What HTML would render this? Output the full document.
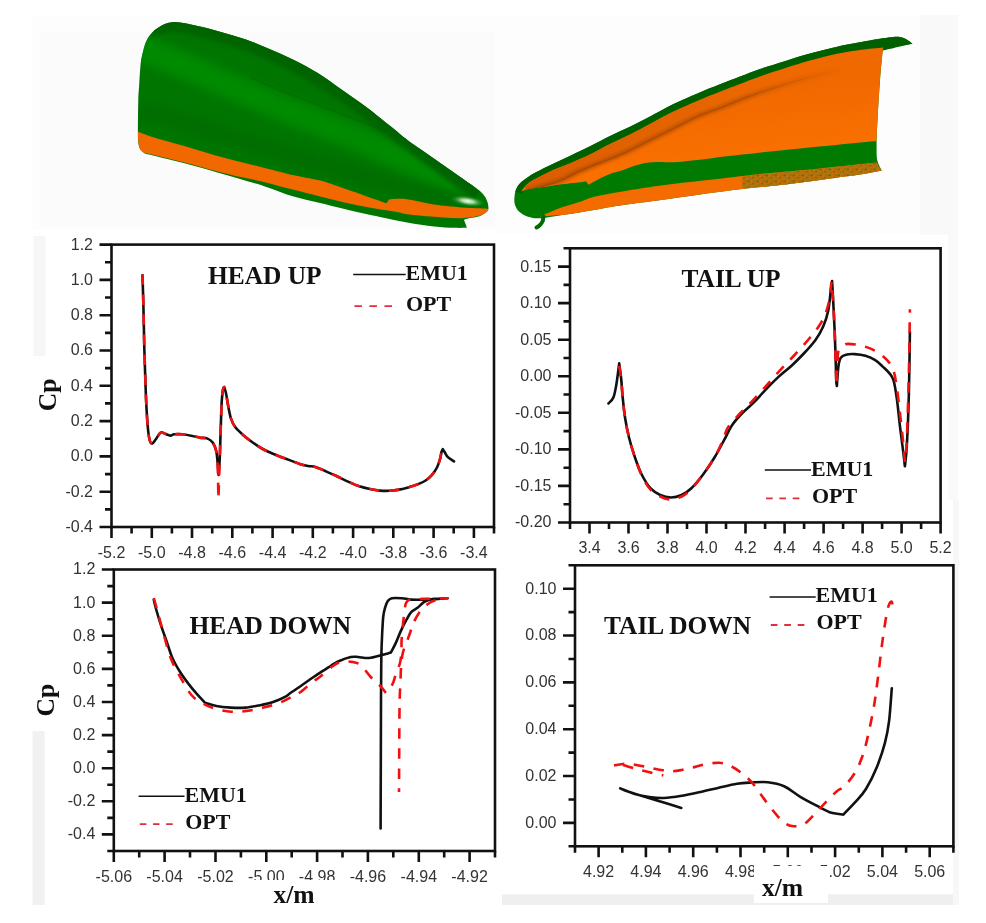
<!DOCTYPE html>
<html><head><meta charset="utf-8"><title>Cp distribution</title>
<style>
html,body{margin:0;padding:0;background:#fff;}
body{width:986px;height:923px;overflow:hidden;position:relative;}
svg{position:absolute;left:0;top:0;display:block;}
.ax{fill:none;stroke:#111;stroke-width:2.6;}
.tk{fill:none;stroke:#111;stroke-width:2.6;}
.tl{font-family:"Liberation Sans",Arial,sans-serif;font-size:16px;fill:#333;}
.ti{font-family:"Liberation Serif","Times New Roman",serif;font-weight:bold;font-size:25.4px;fill:#111;}
.lg{font-family:"Liberation Serif","Times New Roman",serif;font-weight:bold;font-size:22px;fill:#111;}
.al{font-family:"Liberation Serif","Times New Roman",serif;font-weight:bold;font-size:25.6px;fill:#111;}
.bk{fill:none;stroke:#111;stroke-width:2.6;stroke-linejoin:round;stroke-linecap:round;}
.rd{fill:none;stroke:#f01010;stroke-width:2.6;stroke-dasharray:10.5 9.5;stroke-linejoin:round;}
</style></head><body>
<svg width="986" height="923" viewBox="0 0 986 923">

<defs>
<linearGradient id="hg" gradientUnits="userSpaceOnUse" x1="300" y1="55" x2="262" y2="180">
<stop offset="0" stop-color="#0c6a0c"/><stop offset="0.12" stop-color="#0d700d"/><stop offset="0.3" stop-color="#138413"/>
<stop offset="0.5" stop-color="#118011"/><stop offset="0.75" stop-color="#0f7c0f"/><stop offset="1" stop-color="#0c740c"/>
</linearGradient>
<linearGradient id="tg" gradientUnits="userSpaceOnUse" x1="700" y1="95" x2="708" y2="165">
<stop offset="0" stop-color="#f06800"/><stop offset="0.4" stop-color="#f46c00"/><stop offset="1" stop-color="#fa7000"/>
</linearGradient>
<linearGradient id="ba" gradientUnits="userSpaceOnUse" x1="520" y1="0" x2="880" y2="0">
<stop offset="0" stop-color="#d85c00"/><stop offset="0.45" stop-color="#e06200" stop-opacity="0.8"/><stop offset="0.8" stop-color="#e86600" stop-opacity="0"/>
</linearGradient>
<linearGradient id="cg" gradientUnits="userSpaceOnUse" x1="520" y1="0" x2="840" y2="0">
<stop offset="0" stop-color="#a84800"/><stop offset="0.7" stop-color="#b85000"/><stop offset="1" stop-color="#d86000" stop-opacity="0.2"/>
</linearGradient>
<filter id="bl4" x="-10%" y="-50%" width="120%" height="200%"><feGaussianBlur stdDeviation="5"/></filter>
<filter id="bl05" x="-10%" y="-50%" width="120%" height="200%"><feGaussianBlur stdDeviation="0.6"/></filter>
<radialGradient id="hl" cx="0.55" cy="0.55" r="0.5">
<stop offset="0" stop-color="#f4fff0"/><stop offset="0.35" stop-color="#b8e0b0" stop-opacity="0.9"/><stop offset="0.7" stop-color="#40a040" stop-opacity="0.5"/><stop offset="1" stop-color="#108a10" stop-opacity="0"/>
</radialGradient>
<filter id="bl" x="-10%" y="-50%" width="120%" height="200%"><feGaussianBlur stdDeviation="2.5"/></filter>
<filter id="bl1" x="-10%" y="-50%" width="120%" height="200%"><feGaussianBlur stdDeviation="1.2"/></filter>
<clipPath id="hc"><path d="M144.7 153.4 C144 152.7 141.4 151 140.3 149.3 C139.2 147.6 138.8 145.9 138.4 143 C138 140.1 137.9 139.2 137.9 132 C137.9 124.8 138.1 107.7 138.3 100 C138.5 92.3 138.8 91.3 139.1 86 C139.4 80.7 139.8 73.1 140.3 68 C140.8 62.9 140.9 60.4 142.1 55.6 C143.2 50.8 144.7 43.9 147.2 39.3 C149.7 34.7 152.9 31.1 157.3 28.2 C161.7 25.3 167 22.5 173.5 22.1 C180 21.7 188.6 24.2 196.5 25.8 C204.4 27.4 212.8 29.7 220.9 31.9 C229 34.1 237.1 36.4 245.2 39.2 C253.3 42.1 261.4 45.5 269.5 49 C277.6 52.5 285.8 55.9 293.9 59.9 C302 63.9 310.1 68.2 318.2 73.3 C326.3 78.4 334.5 84.6 342.6 90.3 C350.7 96 358.8 101.3 366.9 107.4 C375 113.5 384.6 121.4 391.3 126.8 C398 132.2 402.2 136.1 407.1 139.8 C412 143.6 416.1 146.1 420.6 149.3 C425.1 152.5 429.7 155.7 434.2 158.8 C438.7 162 443.2 165 447.7 168.2 C452.2 171.3 456.8 174.5 461.3 177.7 C465.8 180.9 471.2 184.5 474.8 187.2 C478.4 189.9 480.9 191.8 482.9 194 C484.9 196.2 486.1 198.4 487 200.7 C487.9 202.9 488.4 205.7 488.4 207.5 C488.4 209.3 488.4 210.2 487 211.6 C485.6 213 483.2 214.8 480 216 C476.8 217.2 470.7 217.9 468 218.5 C465.3 219.1 464.7 219.5 464 219.7 C464.5 221 466.5 226.5 467 227.8 C464.9 227.8 460 228 454.5 227.8 C449 227.6 442.1 227.4 434.2 226.5 C426.3 225.6 416.1 224 407.1 222.4 C398.1 220.8 390.3 219.2 380 217 C369.7 214.8 355.6 211.7 345.5 209.3 C335.4 206.9 327.9 204.9 319.1 202.7 C310.3 200.5 301.5 198.8 292.7 196.2 C283.9 193.6 275.2 189.8 266.4 186.9 C257.6 184 249.6 181.8 240 179 C230.4 176.2 218.6 172.7 209 170 C199.4 167.3 191.5 165.1 182.7 162.8 C173.9 160.5 162.7 157.8 156.4 156.2 C150.1 154.6 146.6 153.9 144.7 153.4Z"/></clipPath>
<clipPath id="tc"><path d="M521.2 191.6 C521.8 190.8 523.5 188.1 525 186.5 C526.5 184.9 527.7 183.5 530.3 181.8 C532.9 180.1 537 178 540.4 176.2 C543.8 174.4 547.3 172.7 550.6 171.2 C553.9 169.7 556.5 168.8 560 167.3 C563.5 165.9 566.9 164.6 571.9 162.5 C576.9 160.4 583.6 157.6 590 154.5 C596.4 151.4 603.3 147.3 610 144 C616.7 140.7 623.3 137.8 630 134.5 C636.7 131.2 642.8 127.8 650 124 C657.2 120.2 665.1 115.6 673 111.8 C680.9 108 689.6 104.2 697.4 100.9 C705.2 97.6 712.9 94.6 720 91.8 C727.1 89 733.3 86.5 740 84 C746.7 81.5 752.4 79.2 760 76.5 C767.6 73.8 777.2 70.7 785.5 68 C793.8 65.3 801.2 62.9 810 60.5 C818.8 58.1 829.9 55.2 838.2 53.5 C846.5 51.8 852.5 51 860 50 C867.5 49 879.2 47.9 883 47.5 C882.5 52.9 880.9 67.9 880 80 C879.1 92.1 878.1 109.8 877.5 120 C876.9 130.2 876.7 137.5 876.5 141 C863.8 142.2 822.4 146.2 800 148.5 C777.6 150.8 761.8 152.3 742 154.5 C722.2 156.7 697 160.3 681.1 161.7 C665.2 163.1 656.9 161.1 646.7 162.7 C636.5 164.2 625.9 169.2 620 171 C614.1 172.8 614.6 172.2 611.3 173.5 C608 174.8 603.8 176.6 600 178.5 C596.2 180.4 590.4 183.8 588.5 184.8 C588.1 184.2 586.4 181.8 586 181.2 C585 181.4 584.3 181.8 580 182.3 C575.7 182.9 564.9 183.9 560 184.5 C555.1 185.1 553.9 185.5 550.6 186 C547.3 186.5 543.8 187 540.4 187.4 C537 187.8 533.5 187.9 530.3 188.6 C527.1 189.3 522.7 191.1 521.2 191.6Z"/></clipPath>
<pattern id="spk" width="9" height="6" patternUnits="userSpaceOnUse">
<rect width="9" height="6" fill="#c06e08"/><rect x="0.5" y="0.5" width="2.5" height="1.8" fill="#5a7410"/><rect x="5" y="2.8" width="2.2" height="1.6" fill="#627810"/>
<rect x="2.5" y="3.8" width="1.6" height="1.5" fill="#8a7410"/><rect x="6.8" y="0.3" width="1.6" height="1.4" fill="#7a7610"/><rect x="3.6" y="1.6" width="1.2" height="1.2" fill="#e07000"/>
</pattern>
</defs>
<rect x="32" y="16" width="470" height="214" fill="#fdfdfd"/>
<rect x="40" y="32" width="455" height="195" fill="#fbfbfb"/>
<rect x="496" y="16" width="424" height="218" fill="#fdfdfd"/>
<rect x="920" y="15" width="38" height="220" fill="#f9f9f9"/>
<rect x="948" y="235" width="10" height="265" fill="#f9f9f9"/>
<path d="M144.7 153.4 C144 152.7 141.4 151 140.3 149.3 C139.2 147.6 138.8 145.9 138.4 143 C138 140.1 137.9 139.2 137.9 132 C137.9 124.8 138.1 107.7 138.3 100 C138.5 92.3 138.8 91.3 139.1 86 C139.4 80.7 139.8 73.1 140.3 68 C140.8 62.9 140.9 60.4 142.1 55.6 C143.2 50.8 144.7 43.9 147.2 39.3 C149.7 34.7 152.9 31.1 157.3 28.2 C161.7 25.3 167 22.5 173.5 22.1 C180 21.7 188.6 24.2 196.5 25.8 C204.4 27.4 212.8 29.7 220.9 31.9 C229 34.1 237.1 36.4 245.2 39.2 C253.3 42.1 261.4 45.5 269.5 49 C277.6 52.5 285.8 55.9 293.9 59.9 C302 63.9 310.1 68.2 318.2 73.3 C326.3 78.4 334.5 84.6 342.6 90.3 C350.7 96 358.8 101.3 366.9 107.4 C375 113.5 384.6 121.4 391.3 126.8 C398 132.2 402.2 136.1 407.1 139.8 C412 143.6 416.1 146.1 420.6 149.3 C425.1 152.5 429.7 155.7 434.2 158.8 C438.7 162 443.2 165 447.7 168.2 C452.2 171.3 456.8 174.5 461.3 177.7 C465.8 180.9 471.2 184.5 474.8 187.2 C478.4 189.9 480.9 191.8 482.9 194 C484.9 196.2 486.1 198.4 487 200.7 C487.9 202.9 488.4 205.7 488.4 207.5 C488.4 209.3 488.4 210.2 487 211.6 C485.6 213 483.2 214.8 480 216 C476.8 217.2 470.7 217.9 468 218.5 C465.3 219.1 464.7 219.5 464 219.7 C464.5 221 466.5 226.5 467 227.8 C464.9 227.8 460 228 454.5 227.8 C449 227.6 442.1 227.4 434.2 226.5 C426.3 225.6 416.1 224 407.1 222.4 C398.1 220.8 390.3 219.2 380 217 C369.7 214.8 355.6 211.7 345.5 209.3 C335.4 206.9 327.9 204.9 319.1 202.7 C310.3 200.5 301.5 198.8 292.7 196.2 C283.9 193.6 275.2 189.8 266.4 186.9 C257.6 184 249.6 181.8 240 179 C230.4 176.2 218.6 172.7 209 170 C199.4 167.3 191.5 165.1 182.7 162.8 C173.9 160.5 162.7 157.8 156.4 156.2 C150.1 154.6 146.6 153.9 144.7 153.4Z" fill="#007500"/>
<g clip-path="url(#hc)">
<path d="M140 48 C146.7 50.7 165.3 57.8 180 64 C194.7 70.2 211.8 78 228 85 C244.2 92 259.2 98.7 277 106 C294.8 113.3 316.2 121.2 335 129 C353.8 136.8 372.5 145.2 390 153 C407.5 160.8 425.3 169 440 176 C454.7 183 471.7 191.8 478 195" fill="none" stroke="#008a00" stroke-width="26" filter="url(#bl4)"/>
<path d="M140 110 C148.3 112.3 173.3 119 190 124 C206.7 129 221.7 134.3 240 140 C258.3 145.7 280 152 300 158 C320 164 340 170.3 360 176 C380 181.7 401.7 187.7 420 192 C438.3 196.3 461.7 200.3 470 202" fill="none" stroke="#006c00" stroke-width="16" opacity="0.8" filter="url(#bl4)"/>
<path d="M150 28 C154.2 27.3 166.7 23.8 175 24 C183.3 24.2 188.3 26 200 29 C211.7 32 230 36.5 245 42 C260 47.5 274.2 53.8 290 62 C305.8 70.2 323.3 80 340 91 C356.7 102 373.3 115.7 390 128 C406.7 140.3 425 154 440 165 C455 176 473.3 189.2 480 194" fill="none" stroke="#006400" stroke-width="16" filter="url(#bl)"/>
<path d="M250 77 C255 79.2 268.3 85.6 280 90.4 C291.7 95.2 306.7 100.9 320 106 C333.3 111.1 346.4 115.6 360 121 C373.6 126.4 394.8 135.6 401.7 138.5" fill="none" stroke="#006000" stroke-width="1.4" opacity="0.35" filter="url(#bl05)"/>
</g>
<path d="M137.9 131.8 C141 132.9 148.9 136 156.4 138.3 C163.9 140.6 173.9 143.1 182.7 145.6 C191.5 148.1 200.3 151 209.1 153.5 C217.9 156 227 158.6 235.5 160.8 C244 163 250.5 164.3 260 166.7 C269.5 169.1 282.8 172.7 292.7 175 C302.6 177.3 312.5 178.8 319.1 180.3 C325.7 181.9 325.7 182.1 332.3 184.3 C338.9 186.5 350.8 190.7 358.7 193.5 C366.6 196.3 375.4 199.4 380 201 C384.6 202.6 384.9 203.2 386.3 203 C387.7 202.8 388.1 200.5 388.5 200 C388.9 199.9 387.9 199.3 391 199.2 C394.1 199.1 399.9 198.4 407.1 199.3 C414.3 200.2 425.2 203.2 434.2 204.6 C443.2 205.9 453.7 206.8 461.3 207.4 C468.9 208 475.5 208.1 480 208.3 C484.5 208.5 486.9 208.7 488.3 208.8 C488.1 209.3 488.4 210.5 487 211.6 C485.6 212.7 484.3 214.4 480 215.5 C475.7 216.6 468.9 218 461.3 218.2 C453.7 218.4 443.2 217.5 434.2 216.8 C425.2 216.2 413.1 215.1 407.1 214.3 C401.1 213.5 404.1 213.2 398.2 212.2 C392.3 211.1 380.7 209.6 371.9 208 C363.1 206.4 354.3 204.7 345.5 202.7 C336.7 200.7 327.9 198.4 319.1 196.2 C310.3 194 302.6 192.1 292.7 189.6 C282.8 187.1 269.5 183.3 260 181 C250.5 178.7 244 177.8 235.5 175.9 C227 174 217.9 171.6 209.1 169.3 C200.3 167 191.5 164.4 182.7 162.1 C173.9 159.8 163 157.2 156.4 155.5 C149.8 153.8 146 153.5 143.2 152.2 C140.4 150.9 140.3 149.5 139.5 147.5 C138.7 145.5 138.5 142.6 138.2 140 C137.9 137.4 137.9 133.2 137.9 131.8Z" fill="#f26800"/>
<ellipse cx="466" cy="200.3" rx="18" ry="5.5" fill="url(#hl)" transform="rotate(9 466 200.3)"/>
<path d="M514.3 199 C514.5 197.8 514.6 193.8 515.3 191.5 C516 189.2 517.2 186.8 518.5 185 C519.8 183.2 520.5 182.5 523.3 180.4 C526.1 178.3 530.3 175.3 535.4 172.5 C540.5 169.7 547.6 166.3 553.7 163.4 C559.8 160.5 565.9 157.8 571.9 154.9 C577.9 152.1 583.6 149.5 590 146.3 C596.4 143.2 603.3 139.3 610 136 C616.7 132.7 623.3 129.9 630 126.7 C636.7 123.5 642.8 120.2 650 116.5 C657.2 112.8 665.1 108.1 673 104.3 C680.9 100.5 689.6 96.7 697.4 93.4 C705.2 90.1 712.9 87.1 720 84.3 C727.1 81.5 733.3 79 740 76.5 C746.7 74 752.4 71.6 760 69 C767.6 66.4 777.2 63.5 785.5 60.9 C793.8 58.3 801.2 55.9 810 53.5 C818.8 51.1 828.2 48.6 838.2 46.4 C848.2 44.2 860.9 42 870 40.5 C879.1 39 887.7 37.6 893 37.1 C898.3 36.6 899.5 37 902 37.6 C904.5 38.2 906.2 39.5 908 40.5 C909.8 41.5 911.8 43.2 912.5 43.8 C907.6 44.4 887.9 46.9 883 47.5 C882.5 52.9 880.9 67.9 880 80 C879.1 92.1 878.1 109.2 877.5 120 C876.9 130.8 876.6 138.3 876.6 145 C876.6 151.7 876.4 155.8 877.2 160 C878.1 164.2 881 168.8 881.7 170.5 C878.1 171.2 868.6 173.2 860 174.5 C851.4 175.8 842.4 176.8 830 178.5 C817.6 180.2 800.2 182.8 785.5 184.5 C770.8 186.2 756.2 187.3 742 189 C727.8 190.7 713.5 192.7 700 194.5 C686.5 196.3 673.4 198.3 660.9 200 C648.4 201.7 634.8 203.4 625 204.8 C615.2 206.2 612.2 206.8 602.4 208.4 C592.5 210 576.2 212.9 565.9 214.5 C555.5 216.1 546.6 217.8 540.3 218.2 C534 218.6 531.5 217.9 528 216.8 C524.5 215.7 521.2 213.5 519 211.5 C516.8 209.5 515.8 207.1 515 205 C514.2 202.9 514.4 200 514.3 199Z" fill="#007a00"/>
<path d="M515.3 191.5 C515.8 190.4 517.2 186.8 518.5 185 C519.8 183.2 520.5 182.5 523.3 180.4 C526.1 178.3 530.3 175.3 535.4 172.5 C540.5 169.7 547.6 166.3 553.7 163.4 C559.8 160.5 565.9 157.8 571.9 154.9 C577.9 152.1 583.6 149.5 590 146.3 C596.4 143.2 603.3 139.3 610 136 C616.7 132.7 623.3 129.9 630 126.7 C636.7 123.5 642.8 120.2 650 116.5 C657.2 112.8 665.1 108.1 673 104.3 C680.9 100.5 689.6 96.7 697.4 93.4 C705.2 90.1 712.9 87.1 720 84.3 C727.1 81.5 733.3 79 740 76.5 C746.7 74 752.4 71.6 760 69 C767.6 66.4 777.2 63.5 785.5 60.9 C793.8 58.3 801.2 55.9 810 53.5 C818.8 51.1 828.2 48.6 838.2 46.4 C848.2 44.2 860.9 42 870 40.5 C879.1 39 887.7 37.6 893 37.1 C898.3 36.6 899.5 37 902 37.6 C904.5 38.2 906.2 39.5 908 40.5 C909.8 41.5 911.8 43.2 912.5 43.8 C907.6 44.9 887.9 49.4 883 50.5 C879.2 50.9 867.5 52 860 53 C852.5 54 846.5 54.8 838.2 56.5 C829.9 58.2 818.8 61.1 810 63.5 C801.2 65.9 793.8 68.3 785.5 71 C777.2 73.7 767.6 76.8 760 79.5 C752.4 82.2 746.7 84.5 740 87 C733.3 89.5 727.1 92 720 94.8 C712.9 97.6 705.2 100.6 697.4 103.9 C689.6 107.2 680.9 111 673 114.8 C665.1 118.6 657.2 123.2 650 127 C642.8 130.8 636.7 134.2 630 137.5 C623.3 140.8 616.7 143.7 610 147 C603.3 150.3 596.4 154.4 590 157.5 C583.6 160.6 576.9 163.4 571.9 165.5 C566.9 167.6 563.5 168.9 560 170.3 C556.5 171.8 553.9 172.7 550.6 174.2 C547.3 175.7 543.8 177.4 540.4 179.2 C537 181 532.9 183.1 530.3 184.8 C527.7 186.5 526.5 188 525 189.5 C523.5 191 521.8 193.2 521.2 194Z" fill="#006000"/>
<path d="M521.2 191.6 C521.8 190.8 523.5 188.1 525 186.5 C526.5 184.9 527.7 183.5 530.3 181.8 C532.9 180.1 537 178 540.4 176.2 C543.8 174.4 547.3 172.7 550.6 171.2 C553.9 169.7 556.5 168.8 560 167.3 C563.5 165.9 566.9 164.6 571.9 162.5 C576.9 160.4 583.6 157.6 590 154.5 C596.4 151.4 603.3 147.3 610 144 C616.7 140.7 623.3 137.8 630 134.5 C636.7 131.2 642.8 127.8 650 124 C657.2 120.2 665.1 115.6 673 111.8 C680.9 108 689.6 104.2 697.4 100.9 C705.2 97.6 712.9 94.6 720 91.8 C727.1 89 733.3 86.5 740 84 C746.7 81.5 752.4 79.2 760 76.5 C767.6 73.8 777.2 70.7 785.5 68 C793.8 65.3 801.2 62.9 810 60.5 C818.8 58.1 829.9 55.2 838.2 53.5 C846.5 51.8 852.5 51 860 50 C867.5 49 879.2 47.9 883 47.5 C882.5 52.9 880.9 67.9 880 80 C879.1 92.1 878.1 109.8 877.5 120 C876.9 130.2 876.7 137.5 876.5 141 C863.8 142.2 822.4 146.2 800 148.5 C777.6 150.8 761.8 152.3 742 154.5 C722.2 156.7 697 160.3 681.1 161.7 C665.2 163.1 656.9 161.1 646.7 162.7 C636.5 164.2 625.9 169.2 620 171 C614.1 172.8 614.6 172.2 611.3 173.5 C608 174.8 603.8 176.6 600 178.5 C596.2 180.4 590.4 183.8 588.5 184.8 C588.1 184.2 586.4 181.8 586 181.2 C585 181.4 584.3 181.8 580 182.3 C575.7 182.9 564.9 183.9 560 184.5 C555.1 185.1 553.9 185.5 550.6 186 C547.3 186.5 543.8 187 540.4 187.4 C537 187.8 533.5 187.9 530.3 188.6 C527.1 189.3 522.7 191.1 521.2 191.6Z" fill="url(#tg)"/>
<g clip-path="url(#tc)">
<path d="M526 191 C529.2 190.1 539.2 187.2 545 185.5 C550.8 183.8 554.8 182.9 560.6 180.5 C566.4 178.1 573.4 173.9 580 171 C586.6 168.1 592.6 165.8 600 162.8 C607.4 159.8 616.2 156.7 624.3 153 C632.4 149.3 640.6 144.9 648.7 140.8 C656.8 136.8 664.9 132.8 673 128.7 C681.1 124.6 689.6 120 697.4 116.5 C705.2 113 711.2 111.4 720 108 C728.8 104.6 740 99.7 750 96 C760 92.3 770 89.2 780 86 C790 82.8 800 79.7 810 77 C820 74.3 835 71.2 840 70 L840 30 L520 150Z" fill="url(#ba)"/>
<path d="M526 191 C529.2 190.1 539.2 187.2 545 185.5 C550.8 183.8 554.8 182.9 560.6 180.5 C566.4 178.1 573.4 173.9 580 171 C586.6 168.1 592.6 165.8 600 162.8 C607.4 159.8 616.2 156.7 624.3 153 C632.4 149.3 640.6 144.9 648.7 140.8 C656.8 136.8 664.9 132.8 673 128.7 C681.1 124.6 689.6 120 697.4 116.5 C705.2 113 711.2 111.4 720 108 C728.8 104.6 740 99.7 750 96 C760 92.3 770 89.2 780 86 C790 82.8 800 79.7 810 77 C820 74.3 835 71.2 840 70" fill="none" stroke="url(#cg)" stroke-width="6" opacity="0.55" filter="url(#bl1)"/>
<path d="M526 191 C529.2 190.1 539.2 187.2 545 185.5 C550.8 183.8 554.8 182.9 560.6 180.5 C566.4 178.1 573.4 173.9 580 171 C586.6 168.1 592.6 165.8 600 162.8 C607.4 159.8 616.2 156.7 624.3 153 C632.4 149.3 640.6 144.9 648.7 140.8 C656.8 136.8 664.9 132.8 673 128.7 C681.1 124.6 689.6 120 697.4 116.5 C705.2 113 711.2 111.4 720 108 C728.8 104.6 740 99.7 750 96 C760 92.3 770 89.2 780 86 C790 82.8 800 79.7 810 77 C820 74.3 835 71.2 840 70" fill="none" stroke="url(#cg)" stroke-width="1.8" filter="url(#bl05)"/>
</g>
<path d="M540 216.5 C543.3 215.1 553.1 210.5 560 208 C566.9 205.5 574.4 203.5 581.1 201.4 C587.8 199.3 586.7 198.2 600 195.5 C613.3 192.8 640.6 188.3 660.9 185.5 C681.2 182.7 705.2 180.4 721.7 178.5 C738.2 176.6 747 175.3 760 174 C773 172.7 780.6 172.4 800 170.5 C819.4 168.6 863.8 163.8 876.6 162.5 C876.7 163.1 876.4 164.7 877.3 166 C878.1 167.3 881 169.8 881.7 170.5 C878.1 171.2 868.6 173.2 860 174.5 C851.4 175.8 842.4 176.8 830 178.5 C817.6 180.2 800.2 182.8 785.5 184.5 C770.8 186.2 756.2 187.3 742 189 C727.8 190.7 713.5 192.7 700 194.5 C686.5 196.3 673.4 198.3 660.9 200 C648.4 201.7 634.8 203.4 625 204.8 C615.2 206.2 612.2 206.8 602.4 208.4 C592.5 210 576.3 213.2 565.9 214.5 C555.5 215.8 544.3 216.2 540 216.5Z" fill="#f46c00"/>
<path d="M742 177 C745 176.5 750.3 175.1 760 174 C769.7 172.9 785 171.9 800 170.5 C815 169.1 837.2 166.8 850 165.5 C862.8 164.2 872.2 163 876.6 162.5 C877.5 163.8 880.9 169.2 881.7 170.5 C878.1 171.2 868.6 173.2 860 174.5 C851.4 175.8 842.4 176.8 830 178.5 C817.6 180.2 800.2 182.8 785.5 184.5 C770.8 186.2 749.2 187.8 742 188.5Z" fill="url(#spk)"/>
<path d="M543.5 216.5 C543.3 217.3 543.2 220 542.5 221.5 C541.8 223 540.5 224.5 539.5 225.5 C538.5 226.5 537 227.2 536.5 227.5" fill="none" stroke="#006c00" stroke-width="4" stroke-linecap="round"/>
<rect x="32.6" y="731" width="12" height="174" fill="#f1f1f1"/><rect x="33.5" y="236" width="12" height="120" fill="#f6f6f6"/>
<rect x="502" y="894.3" width="451" height="10.6" fill="#efefef"/>
<rect x="953" y="500" width="6" height="405" fill="#f7f7f7"/>
<path class="tk" d="M111.5 527V538M151.8 527V538M192 527V538M232.3 527V538M272.6 527V538M312.8 527V538M353.1 527V538M393.3 527V538M433.6 527V538M473.9 527V538M131.6 527V533.5M171.9 527V533.5M212.2 527V533.5M252.4 527V533.5M292.7 527V533.5M332.9 527V533.5M373.2 527V533.5M413.5 527V533.5M453.7 527V533.5M494 527V533.5M111.5 527H99.5M111.5 491.7H99.5M111.5 456.4H99.5M111.5 421.1H99.5M111.5 385.8H99.5M111.5 350.5H99.5M111.5 315.2H99.5M111.5 279.9H99.5M111.5 244.6H99.5M111.5 509.4H105M111.5 474.1H105M111.5 438.8H105M111.5 403.4H105M111.5 368.1H105M111.5 332.9H105M111.5 297.5H105M111.5 262.2H105"/>
<rect class="ax" x="111.5" y="244.6" width="382.5" height="282.4"/>
<text class="tl" x="111.5" y="557.5" text-anchor="middle">-5.2</text>
<text class="tl" x="151.8" y="557.5" text-anchor="middle">-5.0</text>
<text class="tl" x="192" y="557.5" text-anchor="middle">-4.8</text>
<text class="tl" x="232.3" y="557.5" text-anchor="middle">-4.6</text>
<text class="tl" x="272.6" y="557.5" text-anchor="middle">-4.4</text>
<text class="tl" x="312.8" y="557.5" text-anchor="middle">-4.2</text>
<text class="tl" x="353.1" y="557.5" text-anchor="middle">-4.0</text>
<text class="tl" x="393.3" y="557.5" text-anchor="middle">-3.8</text>
<text class="tl" x="433.6" y="557.5" text-anchor="middle">-3.6</text>
<text class="tl" x="473.9" y="557.5" text-anchor="middle">-3.4</text>
<text class="tl" x="93" y="531.9" text-anchor="end">-0.4</text>
<text class="tl" x="93" y="496.6" text-anchor="end">-0.2</text>
<text class="tl" x="93" y="461.3" text-anchor="end">0.0</text>
<text class="tl" x="93" y="426" text-anchor="end">0.2</text>
<text class="tl" x="93" y="390.7" text-anchor="end">0.4</text>
<text class="tl" x="93" y="355.4" text-anchor="end">0.6</text>
<text class="tl" x="93" y="320.1" text-anchor="end">0.8</text>
<text class="tl" x="93" y="284.8" text-anchor="end">1.0</text>
<text class="tl" x="93" y="249.5" text-anchor="end">1.2</text>
<path class="tk" d="M589.5 522.5V533.5M628.5 522.5V533.5M667.5 522.5V533.5M706.5 522.5V533.5M745.5 522.5V533.5M784.6 522.5V533.5M823.6 522.5V533.5M862.6 522.5V533.5M901.6 522.5V533.5M940.6 522.5V533.5M570 522.5V529M609 522.5V529M648 522.5V529M687 522.5V529M726 522.5V529M765.1 522.5V529M804.1 522.5V529M843.1 522.5V529M882.1 522.5V529M921.1 522.5V529M570 522.5H558M570 485.9H558M570 449.4H558M570 412.8H558M570 376.3H558M570 339.7H558M570 303.1H558M570 266.6H558M570 504.2H563.5M570 467.7H563.5M570 431.1H563.5M570 394.5H563.5M570 358H563.5M570 321.4H563.5M570 284.9H563.5M570 248.3H563.5"/>
<rect class="ax" x="570" y="248.3" width="370.6" height="274.2"/>
<text class="tl" x="589.5" y="553" text-anchor="middle">3.4</text>
<text class="tl" x="628.5" y="553" text-anchor="middle">3.6</text>
<text class="tl" x="667.5" y="553" text-anchor="middle">3.8</text>
<text class="tl" x="706.5" y="553" text-anchor="middle">4.0</text>
<text class="tl" x="745.5" y="553" text-anchor="middle">4.2</text>
<text class="tl" x="784.6" y="553" text-anchor="middle">4.4</text>
<text class="tl" x="823.6" y="553" text-anchor="middle">4.6</text>
<text class="tl" x="862.6" y="553" text-anchor="middle">4.8</text>
<text class="tl" x="901.6" y="553" text-anchor="middle">5.0</text>
<text class="tl" x="940.6" y="553" text-anchor="middle">5.2</text>
<text class="tl" x="551.5" y="527.4" text-anchor="end">-0.20</text>
<text class="tl" x="551.5" y="490.8" text-anchor="end">-0.15</text>
<text class="tl" x="551.5" y="454.3" text-anchor="end">-0.10</text>
<text class="tl" x="551.5" y="417.7" text-anchor="end">-0.05</text>
<text class="tl" x="551.5" y="381.2" text-anchor="end">0.00</text>
<text class="tl" x="551.5" y="344.6" text-anchor="end">0.05</text>
<text class="tl" x="551.5" y="308" text-anchor="end">0.10</text>
<text class="tl" x="551.5" y="271.5" text-anchor="end">0.15</text>
<path class="tk" d="M113.8 851V862M164.6 851V862M215.5 851V862M266.3 851V862M317.1 851V862M367.9 851V862M418.8 851V862M469.6 851V862M139.2 851V857.5M190 851V857.5M240.9 851V857.5M291.7 851V857.5M342.5 851V857.5M393.3 851V857.5M444.2 851V857.5M495 851V857.5M113.8 834.4H101.8M113.8 801.3H101.8M113.8 768.2H101.8M113.8 735.1H101.8M113.8 702H101.8M113.8 668.9H101.8M113.8 635.7H101.8M113.8 602.6H101.8M113.8 569.5H101.8M113.8 851H107.3M113.8 817.9H107.3M113.8 784.8H107.3M113.8 751.6H107.3M113.8 718.5H107.3M113.8 685.4H107.3M113.8 652.3H107.3M113.8 619.2H107.3M113.8 586.1H107.3"/>
<rect class="ax" x="113.8" y="569.5" width="381.2" height="281.5"/>
<text class="tl" x="113.8" y="881.5" text-anchor="middle">-5.06</text>
<text class="tl" x="164.6" y="881.5" text-anchor="middle">-5.04</text>
<text class="tl" x="215.5" y="881.5" text-anchor="middle">-5.02</text>
<text class="tl" x="266.3" y="881.5" text-anchor="middle">-5.00</text>
<text class="tl" x="317.1" y="881.5" text-anchor="middle">-4.98</text>
<text class="tl" x="367.9" y="881.5" text-anchor="middle">-4.96</text>
<text class="tl" x="418.8" y="881.5" text-anchor="middle">-4.94</text>
<text class="tl" x="469.6" y="881.5" text-anchor="middle">-4.92</text>
<text class="tl" x="95.3" y="839.3" text-anchor="end">-0.4</text>
<text class="tl" x="95.3" y="806.2" text-anchor="end">-0.2</text>
<text class="tl" x="95.3" y="773.1" text-anchor="end">0.0</text>
<text class="tl" x="95.3" y="740" text-anchor="end">0.2</text>
<text class="tl" x="95.3" y="706.9" text-anchor="end">0.4</text>
<text class="tl" x="95.3" y="673.8" text-anchor="end">0.6</text>
<text class="tl" x="95.3" y="640.6" text-anchor="end">0.8</text>
<text class="tl" x="95.3" y="607.5" text-anchor="end">1.0</text>
<text class="tl" x="95.3" y="574.4" text-anchor="end">1.2</text>
<path class="tk" d="M598.6 846.3V857.3M645.9 846.3V857.3M693.2 846.3V857.3M740.5 846.3V857.3M787.8 846.3V857.3M835.1 846.3V857.3M882.4 846.3V857.3M929.7 846.3V857.3M575 846.3V852.8M622.3 846.3V852.8M669.6 846.3V852.8M716.9 846.3V852.8M764.2 846.3V852.8M811.5 846.3V852.8M858.8 846.3V852.8M906.1 846.3V852.8M953.4 846.3V852.8M575 822.9H563M575 776H563M575 729.2H563M575 682.4H563M575 635.5H563M575 588.7H563M575 846.3H568.5M575 799.5H568.5M575 752.6H568.5M575 705.8H568.5M575 659H568.5M575 612.1H568.5M575 565.3H568.5"/>
<rect class="ax" x="575" y="565.3" width="378.4" height="281"/>
<text class="tl" x="598.6" y="876.8" text-anchor="middle">4.92</text>
<text class="tl" x="645.9" y="876.8" text-anchor="middle">4.94</text>
<text class="tl" x="693.2" y="876.8" text-anchor="middle">4.96</text>
<text class="tl" x="740.5" y="876.8" text-anchor="middle">4.98</text>
<text class="tl" x="787.8" y="876.8" text-anchor="middle">5.00</text>
<text class="tl" x="835.1" y="876.8" text-anchor="middle">5.02</text>
<text class="tl" x="882.4" y="876.8" text-anchor="middle">5.04</text>
<text class="tl" x="929.7" y="876.8" text-anchor="middle">5.06</text>
<text class="tl" x="556.5" y="827.8" text-anchor="end">0.00</text>
<text class="tl" x="556.5" y="780.9" text-anchor="end">0.02</text>
<text class="tl" x="556.5" y="734.1" text-anchor="end">0.04</text>
<text class="tl" x="556.5" y="687.3" text-anchor="end">0.06</text>
<text class="tl" x="556.5" y="640.4" text-anchor="end">0.08</text>
<text class="tl" x="556.5" y="593.6" text-anchor="end">0.10</text>
<path class="bk" d="M142.5 275.2 C142.7 281 143.2 297.9 143.5 310 C143.8 322.1 144 337.2 144.3 348 C144.6 358.8 144.9 366.3 145.2 375 C145.5 383.7 145.7 391.5 146.1 400 C146.5 408.5 147.1 419.4 147.7 426 C148.3 432.6 148.8 436.6 149.5 439.5 C150.2 442.4 151 443.7 152.1 443.6 C153.2 443.5 154.6 440.9 156 439 C157.4 437.1 159.2 433.4 160.7 432.5 C162.2 431.6 163.4 433.3 165 433.8 C166.6 434.3 168.8 435.5 170.3 435.6 C171.8 435.7 172.2 434.5 174.2 434.3 C176.1 434.1 179 434 182 434.3 C185 434.6 189.3 435.3 192.3 435.9 C195.3 436.5 197.6 437.3 200 437.7 C202.4 438.1 204.9 437.6 207 438.4 C209.1 439.2 211.2 440.5 212.7 442.6 C214.2 444.7 215.4 447.7 216.2 451 C217 454.3 217.2 458.3 217.6 462.3 C218 466.3 218.4 472.9 218.6 475 C218.8 472.4 219.4 465.6 219.7 459.5 C220 453.4 220.2 445.4 220.4 438.4 C220.6 431.4 220.9 423.6 221.1 417.3 C221.3 411 221.5 405 221.8 400.4 C222.1 395.8 222.6 391.7 223 389.5 C223.4 387.3 224 387.4 224.2 387 C224.5 388.1 225.3 390.1 226 393.3 C226.7 396.5 227.4 401.8 228.2 406 C229 410.2 229.8 415.2 231 418.7 C232.2 422.2 233.3 424.5 235.2 427.1 C237.1 429.7 239.8 432 242.3 434.2 C244.8 436.4 246.6 438 250 440.5 C253.4 443 258.4 446.6 262.7 449 C266.9 451.4 271.2 452.9 275.5 454.7 C279.8 456.5 284.3 458.1 288.3 459.6 C292.3 461.1 296.3 462.8 299.6 463.9 C302.9 465 305.6 465.5 308.2 466 C310.8 466.5 312.5 466.1 315.3 466.9 C318.1 467.7 321.7 469.5 325.2 471 C328.7 472.5 332.7 474.2 336.5 476 C340.3 477.8 344.2 479.9 348 481.6 C351.8 483.3 355.6 485.1 359.3 486.3 C363 487.5 366.6 488.3 370 489 C373.4 489.7 376.4 490.3 379.7 490.6 C382.9 490.9 386.2 491 389.5 490.8 C392.8 490.6 395.9 490.2 399.2 489.6 C402.4 489 405.8 488.1 409 487.2 C412.2 486.2 415.9 485.1 418.7 483.9 C421.5 482.7 423.8 481.7 426 480.2 C428.2 478.7 430.2 476.9 432 474.8 C433.8 472.7 435.7 470.1 437 467.5 C438.3 464.9 439.2 461.8 440 459.2 C440.8 456.6 441.1 453.3 441.6 451.6 C442.1 449.9 442.6 449.6 442.8 449.2 C443.1 449.7 444 451 444.8 452.3 C445.6 453.6 446.4 455.6 447.9 457.1 C449.4 458.6 453 460.7 454 461.4"/>
<path class="rd" d="M142.5 274.5 C142.7 280.4 143.2 297.8 143.5 310 C143.8 322.2 144 337.2 144.3 348 C144.6 358.8 144.9 366.3 145.2 375 C145.5 383.7 145.7 391.5 146.1 400 C146.5 408.5 147.1 419.4 147.7 426 C148.3 432.6 148.8 436.6 149.5 439.5 C150.2 442.4 151 443.7 152.1 443.6 C153.2 443.5 154.6 440.9 156 439 C157.4 437.1 159.2 433.4 160.7 432.5 C162.2 431.6 163.4 433.3 165 433.8 C166.6 434.3 168.8 435.5 170.3 435.6 C171.8 435.7 172.2 434.5 174.2 434.3 C176.1 434.1 179 434 182 434.3 C185 434.6 189.3 435.3 192.3 435.9 C195.3 436.5 197.6 437.3 200 437.7 C202.4 438.1 204.9 437.6 207 438.4 C209.1 439.2 211.2 440.5 212.7 442.6 C214.2 444.7 215.4 447.3 216.2 451 C217 454.7 217.2 457 217.6 465 C218 473 218.3 493.3 218.4 499 C218.6 492.4 219.4 469.6 219.7 459.5 C220 449.4 220.2 445.4 220.4 438.4 C220.6 431.4 220.9 423.6 221.1 417.3 C221.3 411 221.5 405 221.8 400.4 C222.1 395.8 222.6 391.7 223 389.5 C223.4 387.3 224 387.4 224.2 387 C224.5 388.1 225.3 390.1 226 393.3 C226.7 396.5 227.4 401.8 228.2 406 C229 410.2 229.8 415.2 231 418.7 C232.2 422.2 233.3 424.5 235.2 427.1 C237.1 429.7 239.8 432 242.3 434.2 C244.8 436.4 246.6 438 250 440.5 C253.4 443 258.4 446.6 262.7 449 C266.9 451.4 271.2 452.9 275.5 454.7 C279.8 456.5 284.3 458.1 288.3 459.6 C292.3 461.1 296.3 462.8 299.6 463.9 C302.9 465 305.6 465.5 308.2 466 C310.8 466.5 312.5 466.1 315.3 466.9 C318.1 467.7 321.7 469.5 325.2 471 C328.7 472.5 332.7 474.2 336.5 476 C340.3 477.8 344.2 479.9 348 481.6 C351.8 483.3 355.6 485.1 359.3 486.3 C363 487.5 366.6 488.3 370 489 C373.4 489.7 376.4 490.3 379.7 490.6 C382.9 490.9 386.2 491 389.5 490.8 C392.8 490.6 395.9 490.2 399.2 489.6 C402.4 489 405.8 488.1 409 487.2 C412.2 486.2 415.9 485.1 418.7 483.9 C421.5 482.7 423.8 481.7 426 480.2 C428.2 478.7 430.2 476.9 432 474.8 C433.8 472.7 435.7 470.1 437 467.5 C438.3 464.9 439.2 461.8 440 459.2 C440.8 456.6 441.1 453.3 441.6 451.6 C442.1 449.9 442.6 449.6 442.8 449.2 C443.1 449.8 444.5 451.9 444.8 452.5"/>
<path class="bk" d="M608.5 403.4 C609.3 402.4 612.1 400.6 613.4 397.5 C614.7 394.4 615.3 390.5 616.3 384.8 C617.3 379.1 618.7 367 619.2 363.4 C619.5 366 620.6 373.1 621.2 379 C621.8 384.9 622.1 392 622.8 398.5 C623.4 405 624.1 411.5 625.1 418 C626.1 424.5 627.4 431 629 437.5 C630.6 444 632.7 450.8 634.8 457 C636.9 463.2 639.1 469.3 641.7 474.5 C644.3 479.7 647.3 484.8 650.4 488.2 C653.5 491.6 656.8 493.4 660.2 495 C663.6 496.6 667.3 497.5 670.9 497.5 C674.5 497.5 678.2 496.6 681.6 495 C685 493.4 687.8 491.6 691.4 488.2 C695 484.8 699.2 479.7 703.1 474.5 C707 469.3 711.2 462.9 714.8 457 C718.4 451.1 721.7 444.6 724.5 439.4 C727.3 434.2 728.9 429.9 731.7 425.7 C734.5 421.5 737.8 417.8 741.4 414 C745 410.2 749.2 407.1 753.1 403.2 C757 399.3 760.6 395 764.8 390.6 C769 386.2 774 381.1 778.5 376.9 C783 372.7 787.9 369.1 792.1 365.2 C796.3 361.3 799.9 357.7 803.8 353.5 C807.7 349.3 812.2 344.4 815.5 339.9 C818.8 335.4 821.2 331.2 823.3 326.3 C825.4 321.4 827 316.6 828.2 310.7 C829.4 304.8 830.1 296.1 830.7 291.2 C831.4 286.2 831.9 282.7 832.1 281 C832.3 285 833 296.8 833.4 305 C833.8 313.2 834.2 321.3 834.6 330 C835 338.7 835.3 349.1 835.6 357.4 C835.9 365.7 836 375.2 836.2 380 C836.4 384.8 836.8 385 836.9 386 C837.1 382.8 837.8 371.3 838.4 366.6 C839 361.9 839.3 360 840.6 358 C841.9 356 843.6 355.3 846 354.7 C848.4 354.1 851.5 353.9 854.7 354.1 C858 354.3 862.1 354.8 865.5 355.8 C868.9 356.8 872.3 358.3 875.2 360.1 C878.1 361.9 880.4 364.4 882.8 366.6 C885.1 368.8 887.5 370.8 889.3 373.1 C891.1 375.4 892.3 376.3 893.6 380.6 C894.9 384.9 895.8 391.3 896.9 399.1 C898 406.9 899 418.3 900.1 427.3 C901.2 436.3 902.6 446.8 903.4 453.3 C904.2 459.8 904.6 464.1 904.9 466.3 C905.2 463.4 906 458.4 906.6 449 C907.2 439.6 908 421.9 908.4 410 C908.8 398.1 909 390.5 909.2 377.5 C909.5 364.5 909.8 339.6 909.9 332"/>
<path class="rd" d="M619.2 366 C619.5 368.2 620.6 373.6 621.2 379 C621.8 384.4 622.1 392 622.8 398.5 C623.4 405 624.1 411.5 625.1 418 C626.1 424.5 627.4 431 629 437.5 C630.6 444 632.7 450.7 634.8 457 C636.9 463.3 639.1 470.1 641.7 475.5 C644.3 480.9 647.3 486 650.4 489.5 C653.5 493 656.8 494.8 660.2 496.5 C663.6 498.2 667.3 499.5 670.9 499.5 C674.5 499.5 678.2 498.2 681.6 496.5 C685 494.8 687.8 492.7 691.4 489 C695 485.3 699.2 479.8 703.1 474.5 C707 469.2 711.5 462.8 714.8 457 C718.1 451.2 720.8 444.9 723 440 C725.2 435.1 725 431.9 727.8 427.6 C730.5 423.3 735.9 417.9 739.5 414 C743.1 410.1 745.3 408.3 749.2 404.2 C753.1 400.1 758 395 762.9 389.6 C767.8 384.2 773.3 377.7 778.5 372 C783.7 366.3 788.9 361.2 794.1 355.5 C799.3 349.8 805.2 343.5 809.7 338 C814.2 332.5 818.2 327.9 821.3 322.4 C824.4 316.9 826.5 311.6 828.2 304.8 C829.9 298 831 285.3 831.5 281.4 C831.8 285.3 832.9 296.9 833.4 305 C833.9 313.1 834.2 320.8 834.6 330 C835 339.2 835.3 350.7 835.6 360 C835.9 369.3 836.4 381.4 836.5 385.7 C836.7 382.2 837.2 370.7 837.5 365 C837.8 359.3 837.5 354.7 838.4 351.5 C839.3 348.3 841.4 347.3 843 346 C844.6 344.7 844.8 343.9 848.2 343.9 C851.6 343.9 858.6 344.8 863.3 346.1 C868 347.4 872.3 349.2 876.3 351.5 C880.3 353.8 884.2 356.9 887.1 360.1 C890 363.4 892 366.3 893.6 371 C895.2 375.7 895.8 381.1 896.9 388.3 C898 395.5 899 404.9 900.1 414.3 C901.2 423.7 902.6 436.7 903.4 444.6 C904.2 452.6 904.6 459.1 904.9 462 C905.2 459.1 906 458.7 906.6 444.6 C907.2 430.5 908.2 400.1 908.8 377.5 C909.3 354.9 909.7 320.6 909.9 309.2"/>
<path class="bk" d="M153.8 599.7 C154.2 601.3 155 605.2 156.2 609.5 C157.4 613.8 159.3 620.3 161.1 625.7 C162.9 631.1 164.9 636.5 166.8 641.9 C168.7 647.3 170.2 653.1 172.5 658.2 C174.8 663.4 177.9 668.5 180.6 672.8 C183.3 677.1 186 680.6 188.7 684.1 C191.4 687.6 194.1 690.8 196.8 693.9 C199.5 697 203.6 701.3 204.9 702.8 C206.8 703.3 212 705.2 216.3 706 C220.6 706.8 226 707.3 230.9 707.6 C235.8 707.9 240.6 708 245.5 707.6 C250.4 707.2 255.5 706.1 260.1 705.2 C264.7 704.3 268.8 703.5 273.1 702 C277.4 700.5 283.2 697.8 286 696.3 C288.8 694.8 287.3 695.2 290 693.3 C292.7 691.4 298.1 687.8 302.2 685 C306.2 682.2 310.2 679.2 314.3 676.5 C318.4 673.8 322.4 671.1 326.5 668.6 C330.6 666.1 334.6 663.2 338.7 661.3 C342.8 659.4 347.6 657.7 350.8 657 C354.1 656.3 355.1 656.8 358.2 657 C361.2 657.2 365.2 658.3 369.1 658 C373 657.7 377.7 656.1 381.3 655.2 C384.9 654.3 389.2 653 390.8 652.6 C391.6 651.1 393.9 647.1 395.6 643.4 C397.3 639.7 399.2 634.5 401 630.6 C402.8 626.7 404.8 622.7 406.5 619.7 C408.2 616.7 409.2 614.4 411 612.4 C412.8 610.4 415.2 609.6 417.5 607.8 C419.8 606 422.1 603 424.8 601.5 C427.5 600 430.1 599.4 433.9 598.9 C437.7 598.4 445.3 598.3 447.6 598.2 C443.8 598.4 430.9 599.4 424.8 599.6 C418.7 599.8 414.8 599.8 411 599.6 C407.2 599.4 405.2 598.4 402 598.2 C398.8 598 394.3 597.7 391.9 598.2 C389.5 598.7 388.9 599.4 387.8 601 C386.7 602.6 385.8 605.1 385 607.8 C384.2 610.5 383.6 613.2 383.2 617 C382.8 620.8 382.6 626.1 382.3 630.6 C382.1 635.1 381.9 639.4 381.7 644.3 C381.5 649.2 381.4 650.7 381.3 660 C381.2 669.3 381.1 671.9 381 700 C380.9 728.1 380.7 807.1 380.6 828.5"/>
<path class="rd" d="M153.8 598 C154.5 600.5 156.5 607.6 158 613 C159.5 618.4 160.6 623.1 162.7 630.6 C164.8 638.1 167.8 650.4 170.8 658.2 C173.8 666 177.1 671.4 180.6 677.6 C184.1 683.8 188.1 691.2 191.9 695.5 C195.7 699.8 199.5 701.4 203.3 703.6 C207.1 705.8 210 707.1 214.6 708.5 C219.2 709.9 225.5 711.3 230.9 711.7 C236.3 712.1 241.7 711.6 247.1 710.9 C252.5 710.2 257.9 709 263.3 707.6 C268.7 706.2 274.7 704.7 279.6 702.8 C284.5 700.9 288.9 698.1 292.5 696.3 C296.1 694.4 297.8 694 301 691.7 C304.2 689.4 308.7 685.1 311.9 682.6 C315.1 680.1 316.9 679.2 320.4 676.5 C323.8 673.8 329.2 668.6 332.6 666.2 C336.1 663.8 337.9 662.6 341.1 661.9 C344.4 661.2 348.9 661.4 352.1 661.9 C355.4 662.4 357.6 662.6 360.6 665 C363.6 667.4 367.2 673.2 370.3 676.5 C373.4 679.8 376.9 682.2 379.5 685 C382.1 687.8 384.9 691.7 386 693 C387.1 691.5 390.8 687.5 392.5 684.2 C394.2 680.9 394.8 676.9 396 673.4 C397.2 669.9 399.1 666.6 400 663 C400.9 659.4 401.2 655.3 401.5 652 C401.8 648.7 401.4 646.3 401.5 643 C401.6 639.7 401.9 635.5 402.2 632 C402.5 628.5 402.8 625.5 403.2 622 C403.6 618.5 404.1 614.2 404.6 611 C405.1 607.8 405.1 604.9 406 603 C406.9 601.1 407.7 600.2 410 599.5 C412.3 598.8 416.7 599.1 420 599 C423.3 598.9 425.4 598.8 430 598.7 C434.6 598.6 444.7 598.3 447.6 598.2 C445.7 598.5 439.4 599 436 600 C432.6 601 430.3 602.1 427.5 604.2 C424.7 606.3 421.7 609.1 419.3 612.4 C416.9 615.7 414.4 620.9 412.9 624.2 C411.4 627.6 411.3 629.2 410.2 632.5 C409.1 635.8 407.2 640.6 406 644 C404.8 647.4 403.6 649.5 402.8 653 C402 656.5 401.6 659.7 401.2 665 C400.8 670.3 400.6 677.5 400.3 685 C400 692.5 399.7 692.2 399.5 710 C399.3 727.8 399.1 778.3 399 792"/>
<path class="bk" d="M681.3 807.9 C678.1 806.9 668.3 803.9 662.1 802 C655.9 800.1 649.6 798.4 643.9 796.6 C638.2 794.9 632 792.9 628 791.5 C624 790.1 621.5 788.9 620.2 788.4 C622.6 789.3 629.9 792.5 634.8 793.9 C639.7 795.3 644.5 796.3 649.4 797 C654.3 797.7 658.5 798.2 664 798 C669.5 797.8 676.1 796.7 682.2 795.7 C688.3 794.7 694.4 793.3 700.5 792 C706.6 790.7 712.6 789.2 718.7 787.8 C724.8 786.4 731.5 784.7 737 783.8 C742.5 782.9 746.6 782.8 751.7 782.5 C756.9 782.2 762.5 781.6 767.9 782.2 C773.3 782.8 778.7 783.8 784.1 786.2 C789.5 788.6 794.9 793.5 800.3 796.8 C805.7 800 811.7 803.1 816.6 805.7 C821.5 808.3 825.2 810.7 829.6 812.2 C834 813.7 841 814.2 843.3 814.6 C845.3 812.5 851.4 806.5 855.2 802.2 C859 797.9 862.5 794.6 866.1 788.7 C869.7 782.8 873.8 774.7 876.9 767 C880 759.3 883 750.3 885 742.6 C887 734.9 888 729.9 889.1 720.9 C890.2 711.9 891.3 693.8 891.8 688.4"/>
<path class="rd" d="M614 765.5 C615.5 765.2 620 764.2 623 764 C626 763.8 628.7 763.8 632 764.2 C635.3 764.6 639.5 765.6 643 766.3 C646.5 767 649.3 767.6 652.7 768.3 C656.1 769 660 769.8 663.3 770.3 C666.6 770.8 669.2 771.4 672.4 771.3 C675.6 771.2 679.3 770.4 682.6 769.8 C685.9 769.2 688.7 768.6 692.2 767.7 C695.7 766.9 698.9 765.5 703.4 764.7 C707.9 763.9 714.7 762.5 719.2 762.7 C723.7 762.9 726.8 764.2 730.6 766 C734.4 767.8 738.4 770.6 741.9 773.3 C745.4 776 748.5 778.6 751.7 782.2 C755 785.9 758.2 790.9 761.4 795.2 C764.6 799.5 767.6 803.9 771.1 808.2 C774.6 812.5 779 818.1 782.5 821.1 C786 824.1 788.7 825.5 792.2 826 C795.7 826.5 799.8 826.4 803.6 824.4 C807.4 822.4 811.5 817.3 815 813.8 C818.5 810.3 821.2 806.9 824.7 803.3 C828.2 799.6 832.7 794.8 836 791.9 C839.3 789 841.2 789.2 844.4 786 C847.6 782.8 852 777.8 855.2 772.4 C858.4 767 861.1 760.2 863.4 753.4 C865.7 746.6 867 739.9 868.8 731.8 C870.6 723.7 872.6 714.2 874.2 704.7 C875.8 695.2 876.9 685.3 878.3 674.9 C879.6 664.5 880.9 652.2 882.3 642.3 C883.6 632.3 885.3 621.5 886.4 615.2 C887.5 608.9 888.2 606.6 889.1 604.4 C890 602.1 891.2 601.2 891.8 601.7 C892.4 602.2 892.5 606.2 892.6 607.1"/>
<path class="rd" d="M623 765 C624.8 765.5 630.6 767.3 634 768.3 C637.4 769.3 640.2 770 643.5 770.8 C646.8 771.6 650.4 772.5 653.7 773.3 C657 774.1 661.7 775 663.3 775.4"/>
<text class="ti" x="208" y="283.5">HEAD UP</text>
<text class="ti" x="681.5" y="287.3">TAIL UP</text>
<text class="ti" x="189.5" y="633.8">HEAD DOWN</text>
<text class="ti" x="604" y="633.6">TAIL DOWN</text>
<path d="M353.2 274.6H405.7" stroke="#111" stroke-width="1.5" fill="none"/>
<text class="lg" x="405.5" y="279.8">EMU1</text>
<path d="M354.4 306.1H392" stroke="#e0303c" stroke-width="1.8" stroke-dasharray="7.52 7.52" fill="none"/>
<text class="lg" x="406" y="311">OPT</text>
<path d="M764.8 470.1H811" stroke="#111" stroke-width="1.5" fill="none"/>
<text class="lg" x="811" y="475.9">EMU1</text>
<path d="M766.0 498.4H799.4" stroke="#e0303c" stroke-width="1.8" stroke-dasharray="6.68 6.68" fill="none"/>
<text class="lg" x="812" y="502.5">OPT</text>
<path d="M138.6 796.2H184.5" stroke="#111" stroke-width="1.5" fill="none"/>
<text class="lg" x="184.5" y="801.6">EMU1</text>
<path d="M139.79999999999998 824.1H172.7" stroke="#e0303c" stroke-width="1.8" stroke-dasharray="6.58 6.58" fill="none"/>
<text class="lg" x="185.2" y="828.7">OPT</text>
<path d="M769.6 596.9H815.7" stroke="#111" stroke-width="1.5" fill="none"/>
<text class="lg" x="815.5" y="601.8">EMU1</text>
<path d="M770.8000000000001 625H804.4" stroke="#e0303c" stroke-width="1.8" stroke-dasharray="6.72 6.72" fill="none"/>
<text class="lg" x="816.4" y="628.6">OPT</text>
<text class="al" transform="translate(55.8 394.8) rotate(-90)" text-anchor="middle">Cp</text>
<text class="al" transform="translate(53.8 700.2) rotate(-90)" text-anchor="middle">Cp</text>
<rect x="246" y="880" width="92" height="25" fill="#fff"/>
<text class="al" x="294" y="902.7" text-anchor="middle">x/m</text>
<rect x="754" y="866" width="74" height="37" fill="#fff"/>
<text class="al" x="782.5" y="896" text-anchor="middle">x/m</text>
</svg>
</body></html>
